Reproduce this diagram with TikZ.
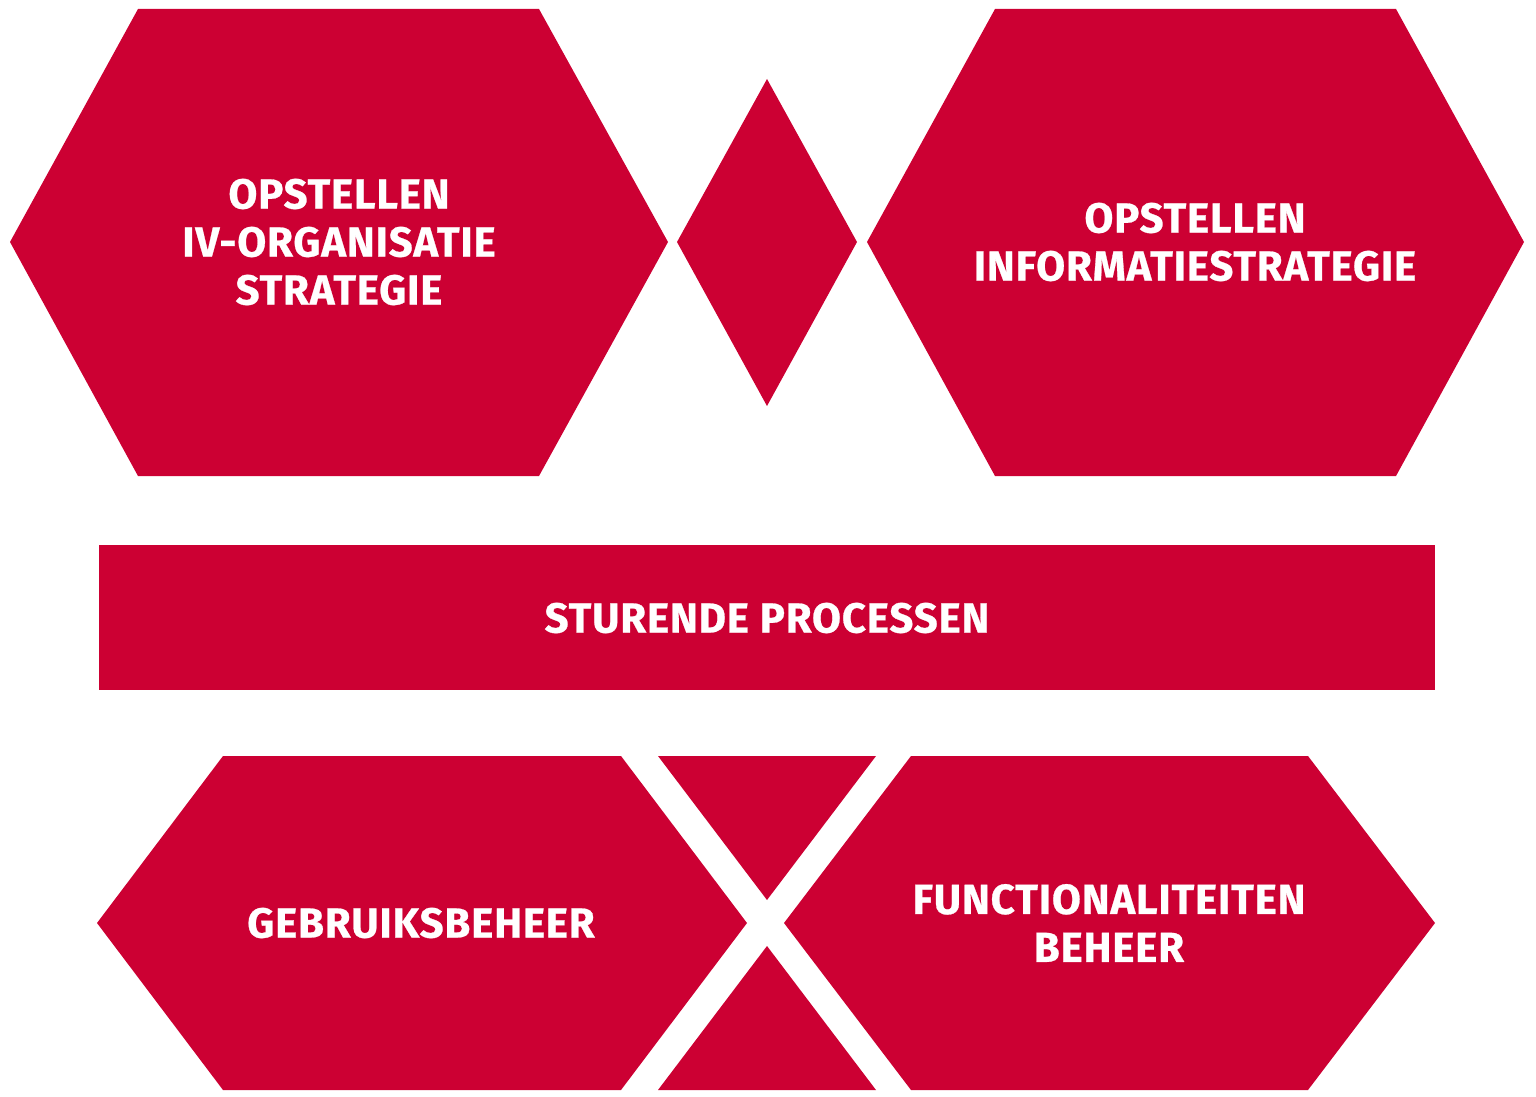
\documentclass[tikz,border=0pt]{standalone}
\usepackage{fontspec}
\setmainfont{Fira Sans}[BoldFeatures={FakeBold=0.6,LetterSpace=2}]
\definecolor{brandred}{HTML}{CC0033}
\begin{document}
\begin{tikzpicture}[x=0.5pt,y=-0.5pt,
  shp/.style={fill=brandred,draw=none},
  lbl/.style={text=white,font=\fontsize{21}{24}\selectfont\bfseries,align=center,inner sep=0pt}]
\useasboundingbox (0,0) rectangle (1536,1097);
% top row
\fill[shp] (138,9) -- (539,9) -- (668,242) -- (539,476) -- (138,476) -- (10,242) -- cycle;
\fill[shp] (767,79) -- (857,242) -- (767,406) -- (677,242) -- cycle;
\fill[shp] (995,9) -- (1396,9) -- (1524,242) -- (1396,476) -- (995,476) -- (867,242) -- cycle;
% bar
\fill[shp] (99,545) rectangle (1435,690);
% bottom row
\fill[shp] (223,756) -- (621,756) -- (747,923) -- (621,1090) -- (223,1090) -- (97,923) -- cycle;
\fill[shp] (658,756) -- (876,756) -- (767,900) -- cycle;
\fill[shp] (767,946) -- (876,1090) -- (658,1090) -- cycle;
\fill[shp] (911,756) -- (1308,756) -- (1435,923) -- (1308,1090) -- (911,1090) -- (784,923) -- cycle;
% labels
\node[lbl] (ivorg) at (339,242) {OPSTELLEN\\IV-ORGANISATIE\\STRATEGIE};
\node[lbl] (infostr) at (1195,242) {OPSTELLEN\\INFORMATIESTRATEGIE};
\node[lbl] (sturend) at (767,618) {STURENDE PROCESSEN};
\node[lbl] (gebruik) at (421,923) {GEBRUIKSBEHEER};
\node[lbl] (functio) at (1109,923) {FUNCTIONALITEITEN\\BEHEER};
\end{tikzpicture}
\end{document}
